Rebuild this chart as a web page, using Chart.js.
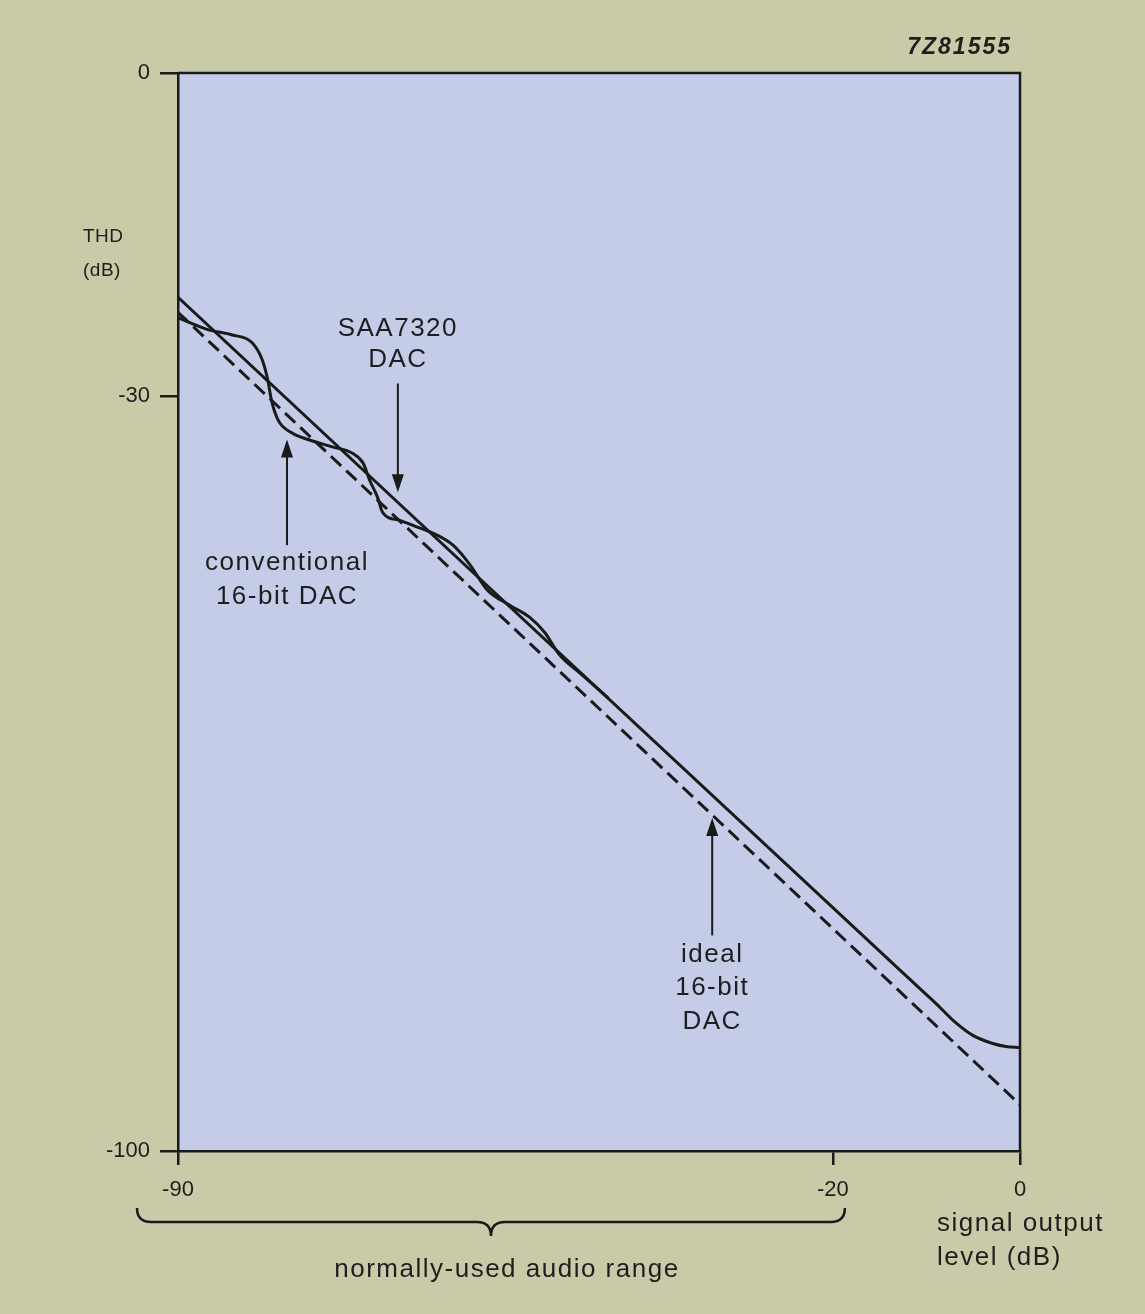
<!DOCTYPE html>
<html>
<head>
<meta charset="utf-8">
<script src="https://cdn.jsdelivr.net/npm/chart.js@4.4.1/dist/chart.umd.min.js"></script>
<style>
  html, body { margin: 0; padding: 0; background: #c9caa8; }
  #wrap { width: 1145px; height: 1314px; position: relative; }
</style>
</head>
<body>
<div id="wrap"><canvas id="thdChart"></canvas></div>
<script>
// axis ticks
const levelTicks = [-90, -20, 0];
const thdTicks = [-100, -30, 0];

// ideal 16-bit DAC (dashed)
const idealLevel = [-90, 0];
const idealThd = [-22.2, -95.7];

// SAA7320 DAC (solid)
const saaLevel = [-90, -12, -9, -7, -5, -3, -1.5, 0];
const saaThd = [-20.8, -83.9, -86.3, -88.0, -89.3, -90.0, -90.3, -90.4];

// conventional 16-bit DAC (wavy)
const convLevel = [-90, -86.8, -84.2, -82.1, -81.0, -80.4, -80.0, -79.3, -77.8, -76.1,
  -73.4, -71.3, -70.2, -69.5, -68.7, -68.1, -66.3, -64.5, -62.7, -60.6,
  -58.8, -57.0, -54.5, -52.4, -50.8, -49.2, -47.0, -44.0];
const convThd = [-22.7, -23.8, -24.3, -25.0, -26.6, -28.5, -30.4, -32.2, -33.4, -34.0,
  -34.7, -35.3, -36.2, -37.8, -39.3, -40.8, -41.5, -42.1, -42.7, -43.8,
  -45.6, -47.9, -49.4, -50.5, -51.9, -54.0, -55.7, -58.0];

const pts = (xs, ys) => xs.map((x, i) => ({ x: x, y: ys[i] }));

const INK = '#1a1a1a';
const TEXT = '#1e1e1e';

const decor = {
  id: 'decor',
  beforeDraw(chart) {
    const ctx = chart.ctx, a = chart.chartArea;
    ctx.save();
    ctx.fillStyle = '#c9caa8';
    ctx.fillRect(0, 0, chart.width, chart.height);
    ctx.fillStyle = '#c4cce8';
    ctx.fillRect(a.left, a.top, a.right - a.left, a.bottom - a.top);
    ctx.restore();
  },
  afterDraw(chart) {
    const ctx = chart.ctx, a = chart.chartArea;
    const X = v => chart.scales.x.getPixelForValue(v);
    const Y = v => chart.scales.y.getPixelForValue(v);
    ctx.save();

    // top and right frame
    ctx.strokeStyle = INK;
    ctx.lineWidth = 2.5;
    ctx.beginPath();
    ctx.moveTo(a.left, a.top);
    ctx.lineTo(a.right, a.top);
    ctx.lineTo(a.right, a.bottom);
    ctx.stroke();

    const txt = (s, x, y, size, align, font, spacing) => {
      ctx.font = (font || '') + ' ' + size + 'px "Liberation Sans", Arial, sans-serif';
      ctx.letterSpacing = (spacing === undefined ? 1.5 : spacing) + 'px';
      ctx.textAlign = align || 'center';
      ctx.textBaseline = 'middle';
      ctx.fillStyle = TEXT;
      ctx.fillText(s, x, y);
    };
    const arrow = (x, y0, y1) => {
      ctx.strokeStyle = INK;
      ctx.fillStyle = INK;
      ctx.lineWidth = 2;
      const dir = y1 > y0 ? 1 : -1;
      ctx.beginPath();
      ctx.moveTo(x, y0);
      ctx.lineTo(x, y1 - dir * 14);
      ctx.stroke();
      ctx.beginPath();
      ctx.moveTo(x, y1);
      ctx.lineTo(x - 6, y1 - dir * 18);
      ctx.lineTo(x + 6, y1 - dir * 18);
      ctx.closePath();
      ctx.fill();
    };

    // code number
    txt('7Z81555', X(0) - 8, a.top - 25, 23, 'right', 'italic bold', 2);

    // y axis title
    txt('THD', a.left - 95, Y(-15.2), 19, 'left', '', 0.5);
    txt('(dB)', a.left - 95, Y(-18.3), 19, 'left', '', 0.5);

    // SAA7320
    txt('SAA7320', X(-66.5), Y(-23.7), 26);
    txt('DAC', X(-66.5), Y(-26.6), 26);
    arrow(X(-66.5), Y(-28.8), Y(-38.9));

    // conventional
    txt('conventional', X(-78.35), Y(-45.4), 26);
    txt('16-bit DAC', X(-78.35), Y(-48.6), 26);
    arrow(X(-78.35), Y(-43.8), Y(-34.0));

    // ideal
    txt('ideal', X(-32.9), Y(-81.8), 26);
    txt('16-bit', X(-32.9), Y(-84.9), 26);
    txt('DAC', X(-32.9), Y(-88.0), 26);
    arrow(X(-32.9), Y(-80.0), Y(-69.1));

    // brace under the audio range
    const L = X(-90) - 41, R = X(-20) + 12, M = (L + R) / 2;
    const yb = a.bottom + 71, h = 14;
    ctx.strokeStyle = INK;
    ctx.lineWidth = 2.5;
    ctx.beginPath();
    ctx.moveTo(L, yb - h);
    ctx.quadraticCurveTo(L, yb, L + h, yb);
    ctx.lineTo(M - h, yb);
    ctx.quadraticCurveTo(M, yb, M, yb + h);
    ctx.quadraticCurveTo(M, yb, M + h, yb);
    ctx.lineTo(R - h, yb);
    ctx.quadraticCurveTo(R, yb, R, yb - h);
    ctx.stroke();
    txt('normally-used audio range', M + 16, a.bottom + 119, 26);

    // x axis title
    txt('signal output', X(0) - 83, a.bottom + 73, 26, 'left');
    txt('level (dB)', X(0) - 83, a.bottom + 107, 26, 'left');

    ctx.restore();
  }
};

new Chart(document.getElementById('thdChart'), {
  type: 'scatter',
  data: {
    datasets: [
      {
        label: 'ideal 16-bit DAC',
        data: pts(idealLevel, idealThd),
        showLine: true,
        borderColor: INK,
        borderWidth: 3,
        borderDash: [14, 7],
        pointRadius: 0
      },
      {
        label: 'conventional 16-bit DAC',
        data: pts(convLevel, convThd),
        showLine: true,
        borderColor: INK,
        borderWidth: 3,
        cubicInterpolationMode: 'monotone',
        pointRadius: 0
      },
      {
        label: 'SAA7320 DAC',
        data: pts(saaLevel, saaThd),
        showLine: true,
        borderColor: INK,
        borderWidth: 3,
        cubicInterpolationMode: 'monotone',
        pointRadius: 0
      }
    ]
  },
  options: {
    responsive: true,
    maintainAspectRatio: false,
    animation: false,
    layout: { padding: { left: 0, top: 73, right: 125, bottom: 0 } },
    plugins: { legend: { display: false }, tooltip: { enabled: false } },
    scales: {
      x: {
        type: 'linear',
        min: -90,
        max: 0,
        afterBuildTicks: s => { s.ticks = levelTicks.map(v => ({ value: v })); },
        afterFit: s => { s.height = 163; },
        grid: { drawOnChartArea: false, drawTicks: true, tickLength: 14, color: INK, lineWidth: 2.5 },
        border: { display: true, color: INK, width: 2.5 },
        ticks: {
          padding: 12,
          color: TEXT,
          font: { family: '"Liberation Sans", Arial, sans-serif', size: 22 },
          maxRotation: 0,
          autoSkip: false
        }
      },
      y: {
        type: 'linear',
        min: -100,
        max: 0,
        afterBuildTicks: s => { s.ticks = thdTicks.map(v => ({ value: v })); },
        afterFit: s => { s.width = 178; },
        grid: { drawOnChartArea: false, drawTicks: true, tickLength: 18, color: INK, lineWidth: 2.5 },
        border: { display: true, color: INK, width: 2.5 },
        ticks: {
          padding: 10,
          color: TEXT,
          font: { family: '"Liberation Sans", Arial, sans-serif', size: 22 },
          autoSkip: false
        }
      }
    }
  },
  plugins: [decor]
});
</script>
</body>
</html>
